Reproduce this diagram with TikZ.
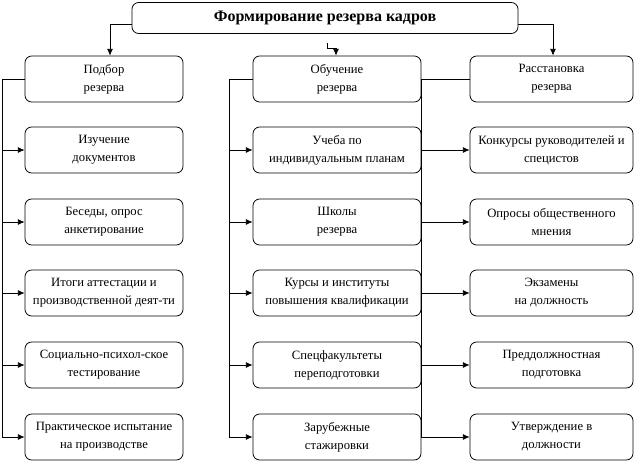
\documentclass[tikz,border=0pt]{standalone}
\usepackage{fontspec}
\setmainfont{Liberation Serif}
\usetikzlibrary{arrows.meta}
\begin{document}
\begin{tikzpicture}[x=0.75pt,y=-0.75pt,
 box/.style={draw,rounded corners=5pt,line width=0.6pt,align=center,font=\fontsize{9.5}{13.5}\selectfont},
 arr/.style={-{Latex[length=5pt,width=4.5pt]},line width=0.6pt},
 ln/.style={line width=0.6pt}]
\useasboundingbox (0,0) rectangle (638,463);
\node[draw,rounded corners=5pt,line width=0.6pt,minimum width=386pt*0.75,minimum height=31*0.75pt,font=\fontsize{12}{14}\selectfont\bfseries] (top) at (325,18) {Формирование резерва кадров};
% left column
\foreach \i/\y/\t in {1/79/{Подбор\\резерва},2/150/{Изучение\\документов},3/222/{Беседы, опрос\\анкетирование},4/293/{Итоги аттестации и\\производственной деят-ти},5/365/{Социально-психол-ское\\тестирование},6/437/{Практическое испытание\\на производстве}}{
 \node[box,minimum width=158*0.75pt,minimum height=46*0.75pt] (L\i) at (104,\y) {\t};}
\foreach \i/\y/\t in {1/79/{Обучение\\резерва},2/150/{Учеба по\\индивидуальным планам},3/222/{Школы\\резерва},4/293/{Курсы и институты\\повышения квалификации},5/365/{Спецфакультеты\\переподготовки},6/437/{Зарубежные\\стажировки}}{
 \node[box,minimum width=168*0.75pt,minimum height=46*0.75pt] (M\i) at (337,\y) {\t};}
\foreach \i/\y/\t in {1/79/{Расстановка\\резерва},2/150/{Конкурсы руководителей и\\специстов},3/222/{Опросы общественного\\мнения},4/293/{Экзамены\\на должность},5/365/{Преддолжностная\\подготовка},6/437/{Утверждение в\\должности}}{
 \node[box,minimum width=163*0.75pt,minimum height=46*0.75pt] (R\i) at (551.5,\y) {\t};}
% top connectors
\draw[arr] (top.west|-0,24) -| (L1.north-|110,0);
\draw[arr] (top.east|-0,24) -| (R1.north-|553,0);
\coordinate (h1) at (327,43); \coordinate (h2) at (336,48);
\draw[arr] (h1) |- (h2) -- (h2|-M1.north);
% left spine
\coordinate (ls) at (2,79); \coordinate (le) at (2,437);
\draw[ln] (L1.west) -- (ls) -- (le);
\foreach \i in {2,...,6}{\draw[arr] (L\i.west-|ls) -- (L\i.west);}
% middle spine
\coordinate (ms) at (229,79); \coordinate (me) at (229,437);
\draw[ln] (M1.west) -- (ms) -- (me);
\foreach \i in {2,...,6}{\draw[arr] (M\i.west-|ms) -- (M\i.west);}
% right spine
\draw[ln] (M1.east) -- (R1.west);
\draw[ln] (M1.east) -- (M6.east);
\foreach \i in {2,...,6}{\draw[arr] (M\i.east) -- (R\i.west);}
\end{tikzpicture}
\end{document}
